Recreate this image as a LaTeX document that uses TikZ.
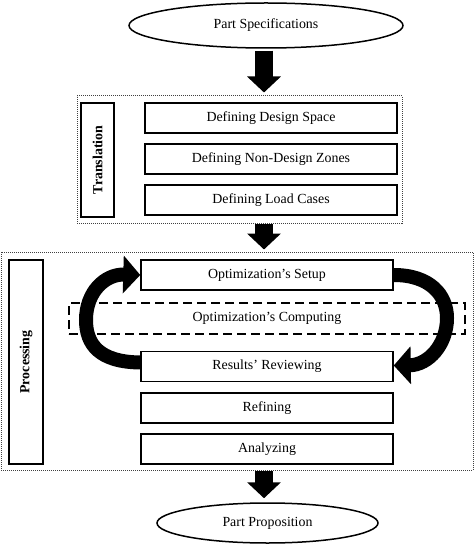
\documentclass[tikz,border=0pt]{standalone}
\usepackage{fontspec}
\setmainfont{Liberation Serif}
\usetikzlibrary{shapes.geometric,arrows.meta}
\begin{document}
\begin{tikzpicture}[x=1pt,y=-1pt,
  every node/.style={font=\fontsize{13.9}{16}\selectfont, inner sep=0pt},
  stepbox/.style={draw, line width=1.5pt, minimum width=252pt, minimum height=30pt},
  labelbox/.style={draw, line width=1.5pt, rotate=90, font=\fontsize{13.9}{16}\selectfont\bfseries},
  groupbox/.style={draw=black!75, densely dotted, line width=1pt},
  termbox/.style={draw, ellipse, line width=1.5pt},
  bigarrow/.style={line width=18pt, -{Triangle[width=33pt,length=16pt]}},
  curvearrow/.style={line width=14pt, -{Triangle[width=37pt,length=17pt]}}]
\useasboundingbox (0,0) rectangle (474,545);

% group frames
\node[groupbox, minimum width=325pt, minimum height=127pt] (trans) at (239.5,159.5) {};
\node[groupbox, minimum width=472pt, minimum height=218pt] (proc) at (237,361) {};

% terminals
\node[termbox, minimum width=274pt, minimum height=45pt] (spec) at (266,25.5) {Part Specifications};
\node[termbox, minimum width=221pt, minimum height=40pt] (prop) at (267.5,523) {Part Proposition};

% translation
\node[labelbox, minimum width=114pt, minimum height=33pt] (tlabel) at (97.5,160) {Translation};
\node[stepbox] (space) at (271,118) {Defining Design Space};
\node[stepbox] (zones) at (271,159) {Defining Non-Design Zones};
\node[stepbox] (loads) at (271,200) {Defining Load Cases};

% processing
\node[labelbox, minimum width=204pt, minimum height=34pt] (plabel) at (26,362) {Processing};
\node[draw, line width=1.5pt, dash pattern=on 9pt off 5pt, minimum width=396pt, minimum height=31pt] (comp) at (267,318.5) {Optimization’s Computing};
\node[stepbox] (setup) at (267,275) {Optimization’s Setup};
\node[stepbox] (results) at (267,366.5) {Results’ Reviewing};
\node[stepbox] (refine) at (267,408) {Refining};
\node[stepbox] (analyze) at (267,449) {Analyzing};

% loop arrows
\draw[curvearrow] ([yshift=4pt]results.west) .. controls (100,362) and (86,345) .. (86,320)
  .. controls (86,292) and (105,274) .. (setup.west);
\draw[curvearrow] (setup.east) .. controls (430,275) and (447,295) .. (447,318)
  .. controls (447,345) and (428,365) .. ([yshift=1pt]results.east);

% block arrows
\draw[bigarrow, shorten <=2pt, shorten >=3pt] ([xshift=-2pt]spec.south) -- ([xshift=-2pt]spec.south |- trans.north);
\draw[bigarrow, shorten >=2pt] ([xshift=-2pt]spec.south |- trans.south) -- ([xshift=-2pt]spec.south |- proc.north);
\draw[bigarrow, shorten >=4pt] ([xshift=-2pt]spec.south |- proc.south) -- ([xshift=-2pt]spec.south |- prop.north);
\end{tikzpicture}
\end{document}
